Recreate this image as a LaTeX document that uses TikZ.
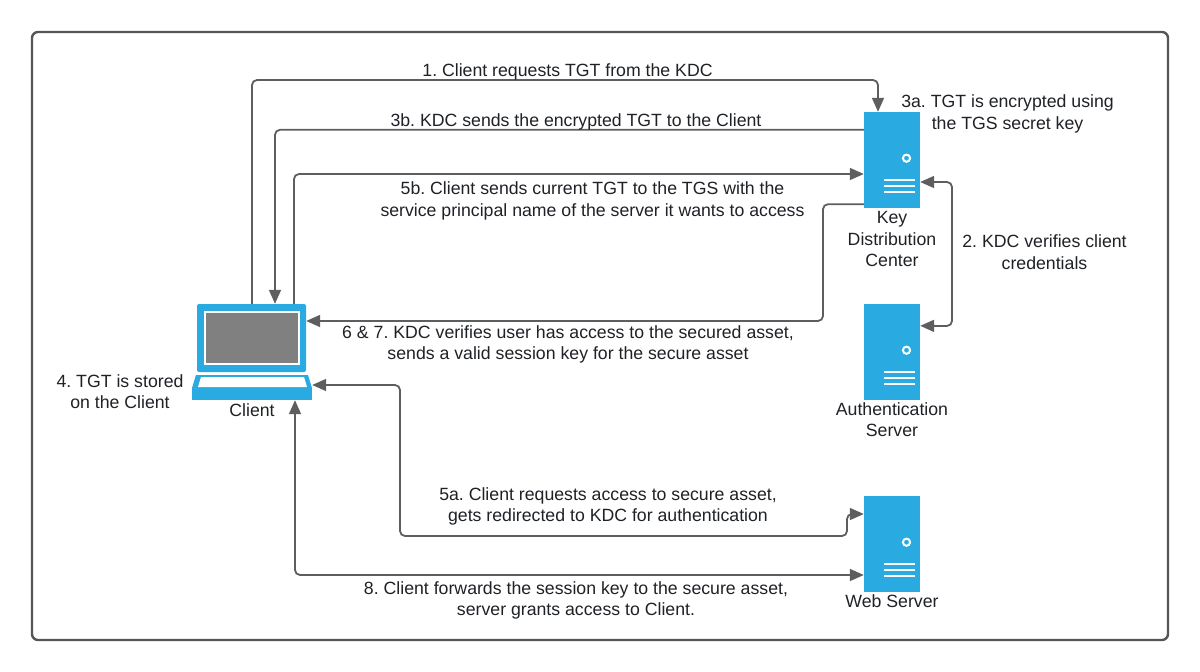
\documentclass[tikz,border=0pt]{standalone}
\usepackage{fontspec}
\setmainfont{Liberation Sans}
\usetikzlibrary{arrows.meta, positioning}
\definecolor{srvblue}{HTML}{29ABE2}
\definecolor{linegray}{HTML}{5E5E5E}
\definecolor{framegray}{HTML}{555555}
\definecolor{screengray}{HTML}{808080}
\definecolor{txt}{HTML}{1E2126}
\tikzset{
    server/.style={fill=srvblue, minimum width=56pt, minimum height=96pt, inner sep=0pt},
    label/.style={text=txt, align=center, inner sep=0pt, font=\fontsize{17.7}{21.5}\selectfont\frenchspacing},
    link/.style={draw=linegray, line width=1.8pt, rounded corners=5pt, -{Triangle[length=14pt, width=12pt]}},
    both/.style={link, {Triangle[length=14pt, width=12pt]}-{Triangle[length=14pt, width=12pt]}}
}
\begin{document}
\begin{tikzpicture}[x=1pt, y=-1pt]
    \useasboundingbox (0,0) rectangle (1200,672);
    \draw[framegray, line width=2.4pt, rounded corners=6pt] (32,32) rectangle (1168,640);

    % servers
    \node [server] (kdc) at (892,160) {};
    \node [server] (auth) at (892,352) {};
    \node [server] (web) at (892,544) {};
    \foreach \srv in {kdc, auth, web} {
        \draw[white, line width=2pt, fill=srvblue] ([xshift=14.5pt, yshift=1.8pt]\srv.center) circle (3.6pt);
        \foreach \off in {19.5, 25.5, 31.5}
            \draw[white, line width=2pt] ([xshift=-8pt, yshift=-\off pt]\srv.center) -- ([xshift=23pt, yshift=-\off pt]\srv.center);
    }

    % client
    \node [fill=srvblue, rounded corners=2pt, minimum width=109pt, minimum height=68pt, inner sep=0pt] (client) at (251.5,338) {};
    \node [fill=screengray, draw=white, line width=2pt, minimum width=94pt, minimum height=52pt, inner sep=0pt] (screen) at (251.5,337.5) {};
    \node [fill=srvblue, minimum width=120pt, minimum height=13pt, inner sep=0pt] (keyboard) at (252,393.5) {};
    \fill[srvblue] (196,375) -- (308,375) -- (312,388) -- (192,388) -- cycle;
    \fill[white] (201,377) -- (304,377) -- (307,387) -- (198,387) -- cycle;

    % server and client names
    \node [label, below=3pt of kdc] (kdcname) {Key\\Distribution\\Center};
    \node [label, below=2pt of auth] (authname) {Authentication\\Server};
    \node [label, below=2pt of web] (webname) {Web Server};
    \node [label, below=3pt of keyboard] (clientname) {Client};

    % connectors
    \draw[link] ([xshift=0.5pt]client.north) |- (878,80) -- ([xshift=-14pt]kdc.north);
    \draw[link] ([yshift=-18pt]kdc.north west) -| ([xshift=23.5pt]client.north);
    \draw[link] ([xshift=42.5pt]client.north) |- ([yshift=-14pt]kdc.west);
    \draw[link] ([yshift=4pt]kdc.south west) -| (823,321) -- ([yshift=17pt]client.east);
    \draw[both] ([yshift=-22pt]kdc.east) -| (952,326) -- ([yshift=-22pt]auth.north east);
    \draw[both] ([yshift=8.5pt]keyboard.east) -| (400,536) -| (847,514) -- ([yshift=30pt]web.west);
    \draw[both] ([xshift=43pt]keyboard.south) |- ([yshift=-31pt]web.west);

    % step labels
    \node [label] (step1) at (567.5,72) {1. Client requests TGT from the KDC};
    \node [label] (step3b) at (576,122) {3b. KDC sends the encrypted TGT to the Client};
    \node [label] (step3a) at (1007.5,114) {3a. TGT is encrypted using\\the TGS secret key};
    \node [label] (step5b) at (592.5,201) {5b. Client sends current TGT to the TGS with the\\service principal name of the server it wants to access};
    \node [label] (step2) at (1044.5,252) {2. KDC verifies client\\credentials};
    \node [label] (step67) at (568,344.5) {6 \& 7. KDC verifies user has access to the secured asset,\\sends a valid session key for the secure asset};
    \node [label] (step4) at (120,391.5) {4. TGT is stored\\on the Client};
    \node [label] (step5a) at (608,506.5) {5a. Client requests access to secure asset,\\gets redirected to KDC for authentication};
    \node [label] (step8) at (576,600.5) {8. Client forwards the session key to the secure asset,\\server grants access to Client.};
\end{tikzpicture}
\end{document}
